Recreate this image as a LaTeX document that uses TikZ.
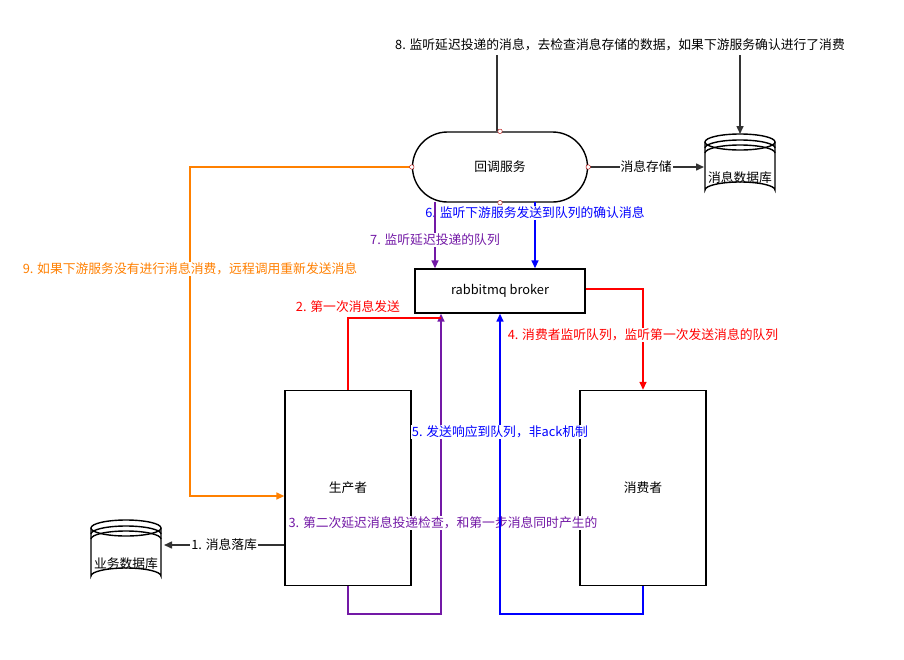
\documentclass[tikz,border=0pt]{standalone}
\usepackage{fontspec}
\setmainfont{Noto Sans CJK SC}
\usetikzlibrary{arrows.meta,positioning}
\definecolor{cred}{rgb}{1.0,0.0,0.0}
\definecolor{cblue}{rgb}{0.0,0.0,1.0}
\definecolor{cpurple}{rgb}{0.45,0.1,0.65}
\definecolor{corange}{rgb}{1.0,0.5,0.0}
\definecolor{cgray}{rgb}{0.2,0.2,0.2}
\newcommand{\lblfont}{\fontsize{12.8}{14}\selectfont}
\tikzset{
  box/.style={draw=black,line width=1.4pt,fill=white,font=\lblfont,inner sep=0pt},
  port/.style={circle,draw=cred!70!black,fill=white,inner sep=1.6pt},
  lbl/.style={fill=white,font=\lblfont,inner sep=1pt},
  flow/.style={line width=1.5pt,-{Triangle[length=8pt,width=7pt]}},
}
% database icon
\newcommand{\dbicon}[4]{%
  \draw[box] (#1-35,#2-24) -- (#1-35,#2+24) arc[start angle=180,end angle=360,x radius=35,y radius=8] -- (#1+35,#2-24);
  \draw[box] (#1,#2-24) ellipse[x radius=35,y radius=8];
  \draw[line width=1.4pt] (#1-35,#2-18) arc[start angle=180,end angle=360,x radius=35,y radius=8];
  \draw[line width=1.4pt] (#1-35,#2-13) arc[start angle=180,end angle=360,x radius=35,y radius=8];
  \node[font=\lblfont] (#3) at (#1,#2+12) {#4};}
\begin{document}
\begin{tikzpicture}[x=1pt,y=-1pt]
\useasboundingbox (0,0) rectangle (904,659);
%
\node[box,rounded corners=35pt,minimum width=175pt,minimum height=70pt] (cb) at (500,167) {回调服务};
\node[box,minimum width=170pt,minimum height=44pt] (mq) at (500,291) {rabbitmq broker};
\node[box,minimum width=126pt,minimum height=195pt] (prod) at (348,488) {生产者};
\node[box,minimum width=126pt,minimum height=195pt] (cons) at (643,488) {消费者};
\dbicon{740}{166}{msgdb}{消息数据库}
\dbicon{126}{552}{bizdb}{业务数据库}
\coordinate (msgdbtop) at (740,134);
\coordinate (msgdbleft) at (704,167);
\coordinate (bizdbright) at (164,545);
%
\node[font=\lblfont] (note8) at (620,45) {8. 监听延迟投递的消息，去检查消息存储的数据，如果下游服务确认进行了消费};
\coordinate (c8a) at (497,55);
\coordinate (c8b) at (740,55);
\draw[cgray,line width=1.5pt] (c8a) -- (cb.north -| c8a);
\draw[flow,cgray] (c8b) -- (msgdbtop);
\draw[flow,cgray] (cb.east) -- node[lbl,text=black] {消息存储} (msgdbleft);
%
\coordinate (c6) at (535,202);
\draw[flow,cblue] (c6) -- (c6 |- mq.north);
\node[lbl,text=cblue] at (535,213) {6. 监听下游服务发送到队列的确认消息};
\coordinate (c7) at (435,202);
\draw[flow,cpurple] (c7) -- (c7 |- mq.north);
\node[lbl,text=cpurple] at (435,240) {7. 监听延迟投递的队列};
%
\coordinate (c9a) at (190,167);
\coordinate (c9b) at (190,496);
\draw[flow,corange] (cb.west) -- (c9a) -- (c9b) -- (c9b -| prod.west);
\node[lbl,text=corange] at (190,269) {9. 如果下游服务没有进行消息消费，远程调用重新发送消息};
%
\coordinate (c3a) at (348,614);
\coordinate (c3b) at (441,614);
\draw[flow,cpurple] (prod.south) -- (c3a) -- (c3b) -- (c3b |- mq.south);
\node[lbl,text=cpurple] at (443,523) {3. 第二次延迟消息投递检查，和第一步消息同时产生的};
\coordinate (c2a) at (348,318);
\draw[line width=1.5pt,cred] (prod.north) -- (c2a) -- (c2a -| c3b);
\node[lbl,text=cred] at (348,307) {2. 第一次消息发送};
%
\coordinate (c4) at (643,289);
\draw[flow,cred] (mq.east |- c4) -- (c4) -- (cons.north);
\node[lbl,text=cred] at (643,335) {4. 消费者监听队列，监听第一次发送消息的队列};
\coordinate (c5a) at (643,614);
\coordinate (c5b) at (500,614);
\draw[flow,cblue] (cons.south) -- (c5a) -- (c5b) -- (mq.south);
\node[lbl,text=cblue] at (500,432) {5. 发送响应到队列，非ack机制};
%
\draw[flow,cgray] (prod.west |- bizdbright) -- node[lbl,text=black] {1. 消息落库} (bizdbright);
%
\node[port] at (cb.north) {};
\node[port] at (cb.south) {};
\node[port] at (cb.west) {};
\node[port] at (cb.east) {};
\end{tikzpicture}
\end{document}
